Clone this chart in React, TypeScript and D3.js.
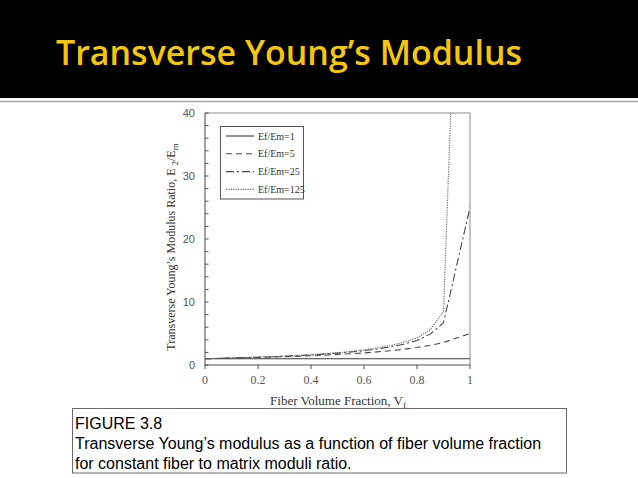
import React, { useEffect, useRef } from "react";
import * as d3 from "d3";

// fiber volume fraction samples and the modulus ratio
const fiberFraction = [0, 0.05, 0.1, 0.15, 0.2, 0.25, 0.3, 0.35, 0.4, 0.45, 0.5, 0.55, 0.6, 0.65, 0.7, 0.75, 0.8, 0.85, 0.9, 1.0];
const ratio1 = [1, 1, 1, 1, 1, 1, 1, 1, 1, 1, 1, 1, 1, 1, 1, 1, 1, 1, 1, 1];
const ratio5 = [1, 1.04, 1.09, 1.14, 1.19, 1.25, 1.32, 1.39, 1.47, 1.56, 1.67, 1.79, 1.92, 2.08, 2.27, 2.5, 2.78, 3.13, 3.57, 5.0];
const ratio25 = [1, 1.05, 1.11, 1.17, 1.24, 1.31, 1.39, 1.49, 1.6, 1.73, 1.88, 2.06, 2.28, 2.55, 2.88, 3.3, 3.9, 4.9, 6.7, 25];
const ratio125 = [1, 1.05, 1.11, 1.17, 1.25, 1.33, 1.42, 1.52, 1.64, 1.78, 1.95, 2.15, 2.4, 2.7, 3.1, 3.6, 4.3, 5.6, 8.5, 125];

const seriesLabels = ["Ef/Em=1", "Ef/Em=5", "Ef/Em=25", "Ef/Em=125"];
const seriesValues = [ratio1, ratio5, ratio25, ratio125];
const seriesDash = ["none", "6,4", "8,3,2,3", "1.2,1.2"];
const seriesColor = ["#3a3a3a", "#4a4a4a", "#4a4a4a", "#666"];

const yTicks = [0, 10, 20, 30, 40];
const xTicks = [0, 0.2, 0.4, 0.6, 0.8, 1];

const captionLines = [
  "FIGURE 3.8",
  "Transverse Young\u2019s modulus as a function of fiber volume fraction",
  "for constant fiber to matrix moduli ratio.",
];

export default function App() {
  const ref = useRef<SVGSVGElement>(null);

  useEffect(() => {
    if (!ref.current) return;
    const svg = d3.select(ref.current);
    svg.selectAll("*").remove();

    // slide header
    svg.append("rect").attr("x", 0).attr("y", 0).attr("width", 638).attr("height", 98).attr("fill", "#000");
    svg.append("line").attr("x1", 0).attr("x2", 638).attr("y1", 101.5).attr("y2", 101.5)
      .attr("stroke", "#a8a8a8").attr("stroke-width", 1.5);
    svg.append("text")
      .attr("x", 56).attr("y", 65)
      .attr("font-family", "'Open Sans', sans-serif")
      .attr("font-weight", 600)
      .attr("font-size", 35)
      .attr("fill", "#f5c60b")
      .attr("textLength", 466)
      .attr("lengthAdjust", "spacingAndGlyphs")
      .text("Transverse Young\u2019s Modulus");

    const x = d3.scaleLinear().domain([0, 1]).range([205, 470]);
    const y = d3.scaleLinear().domain([0, 40]).range([365, 113]);

    const defs = svg.append("defs");
    defs.append("clipPath").attr("id", "plotClip")
      .append("rect").attr("x", x(0)).attr("y", y(40)).attr("width", x(1) - x(0)).attr("height", y(0) - y(40));

    // frame
    svg.append("path")
      .attr("d", `M${x(0)},${y(40)}H${x(1)}V${y(0)}`)
      .attr("fill", "none").attr("stroke", "#8a8a8a").attr("stroke-width", 1);
    svg.append("path")
      .attr("d", `M${x(0)},${y(40)}V${y(0)}H${x(1)}`)
      .attr("fill", "none").attr("stroke", "#555").attr("stroke-width", 1.1);

    // y ticks (minor every 2, inward)
    svg.append("g").selectAll("line")
      .data(y.ticks(20))
      .enter().append("line")
      .attr("x1", x(0)).attr("x2", x(0) + 3.5)
      .attr("y1", (d) => y(d)).attr("y2", (d) => y(d))
      .attr("stroke", "#555");
    svg.append("g").selectAll("text")
      .data(yTicks)
      .enter().append("text")
      .attr("x", 195).attr("y", (d) => y(d) + 4)
      .attr("text-anchor", "end")
      .attr("font-family", "'Liberation Sans', Arial, sans-serif")
      .attr("font-size", 11)
      .attr("fill", "#555")
      .text((d) => d);

    // x ticks (outward)
    svg.append("g").selectAll("line")
      .data(xTicks)
      .enter().append("line")
      .attr("x1", (d) => x(d)).attr("x2", (d) => x(d))
      .attr("y1", y(0)).attr("y2", y(0) + 4)
      .attr("stroke", "#555");
    svg.append("g").selectAll("text")
      .data(xTicks)
      .enter().append("text")
      .attr("x", (d) => x(d)).attr("y", 384)
      .attr("text-anchor", "middle")
      .attr("font-family", "'Liberation Serif', 'Times New Roman', serif")
      .attr("font-size", 12)
      .attr("fill", "#555")
      .text((d) => d3.format("~g")(d));

    // axis titles
    const xt = svg.append("text")
      .attr("x", 338).attr("y", 405)
      .attr("text-anchor", "middle")
      .attr("font-family", "'Liberation Serif', 'Times New Roman', serif")
      .attr("font-size", 13)
      .attr("fill", "#333");
    xt.append("tspan").text("Fiber Volume Fraction, V");
    xt.append("tspan").attr("dy", 3).attr("font-size", 9).text("f");

    const yt = svg.append("text")
      .attr("transform", `translate(175,${(y(0) + y(40)) / 2 + 8}) rotate(-90)`)
      .attr("text-anchor", "middle")
      .attr("font-family", "'Liberation Serif', 'Times New Roman', serif")
      .attr("font-size", 12)
      .attr("fill", "#333");
    yt.append("tspan").text("Transverse Young\u2019s Modulus Ratio, E ");
    yt.append("tspan").attr("dy", 3).attr("font-size", 9).text("2");
    yt.append("tspan").attr("dy", -3).text("/E");
    yt.append("tspan").attr("dy", 3).attr("font-size", 9).text("m");

    // curves
    const line = d3.line<number>()
      .x((_, i) => x(fiberFraction[i]))
      .y((d) => y(d))
      .curve(d3.curveLinear);
    const plot = svg.append("g").attr("clip-path", "url(#plotClip)");
    seriesValues.forEach((vals, i) => {
      plot.append("path")
        .datum(vals)
        .attr("d", line)
        .attr("fill", "none")
        .attr("stroke", seriesColor[i])
        .attr("stroke-width", 1.1)
        .attr("stroke-dasharray", seriesDash[i]);
    });

    // legend
    const lg = svg.append("g");
    lg.append("rect").attr("x", 220.5).attr("y", 126.5).attr("width", 83).attr("height", 72.5)
      .attr("fill", "#fff").attr("stroke", "#555").attr("stroke-width", 1);
    seriesLabels.forEach((label, i) => {
      const cy = 136 + i * 17.8;
      lg.append("line").attr("x1", 226).attr("x2", 254).attr("y1", cy).attr("y2", cy)
        .attr("stroke", seriesColor[i]).attr("stroke-width", 1.1).attr("stroke-dasharray", seriesDash[i]);
      lg.append("text").attr("x", 258).attr("y", cy + 3.5)
        .attr("font-family", "'Liberation Serif', 'Times New Roman', serif")
        .attr("font-size", 10)
        .attr("fill", "#333")
        .text(label);
    });

    // caption box
    svg.append("rect").attr("x", 72.5).attr("y", 408.5).attr("width", 494).attr("height", 64.5)
      .attr("fill", "#fff").attr("stroke", "#6a6a6a").attr("stroke-width", 1);
    svg.append("g").selectAll("text")
      .data(captionLines)
      .enter().append("text")
      .attr("x", 75).attr("y", (_, i) => 429 + i * 20)
      .attr("font-family", "'Liberation Sans', Arial, sans-serif")
      .attr("font-size", 16)
      .attr("fill", "#000")
      .text((d) => d);
  }, []);

  return (
    <svg
      ref={ref}
      width={638}
      height={478}
      style={{ position: "absolute", left: 0, top: 0, background: "#fff" }}
    />
  );
}
